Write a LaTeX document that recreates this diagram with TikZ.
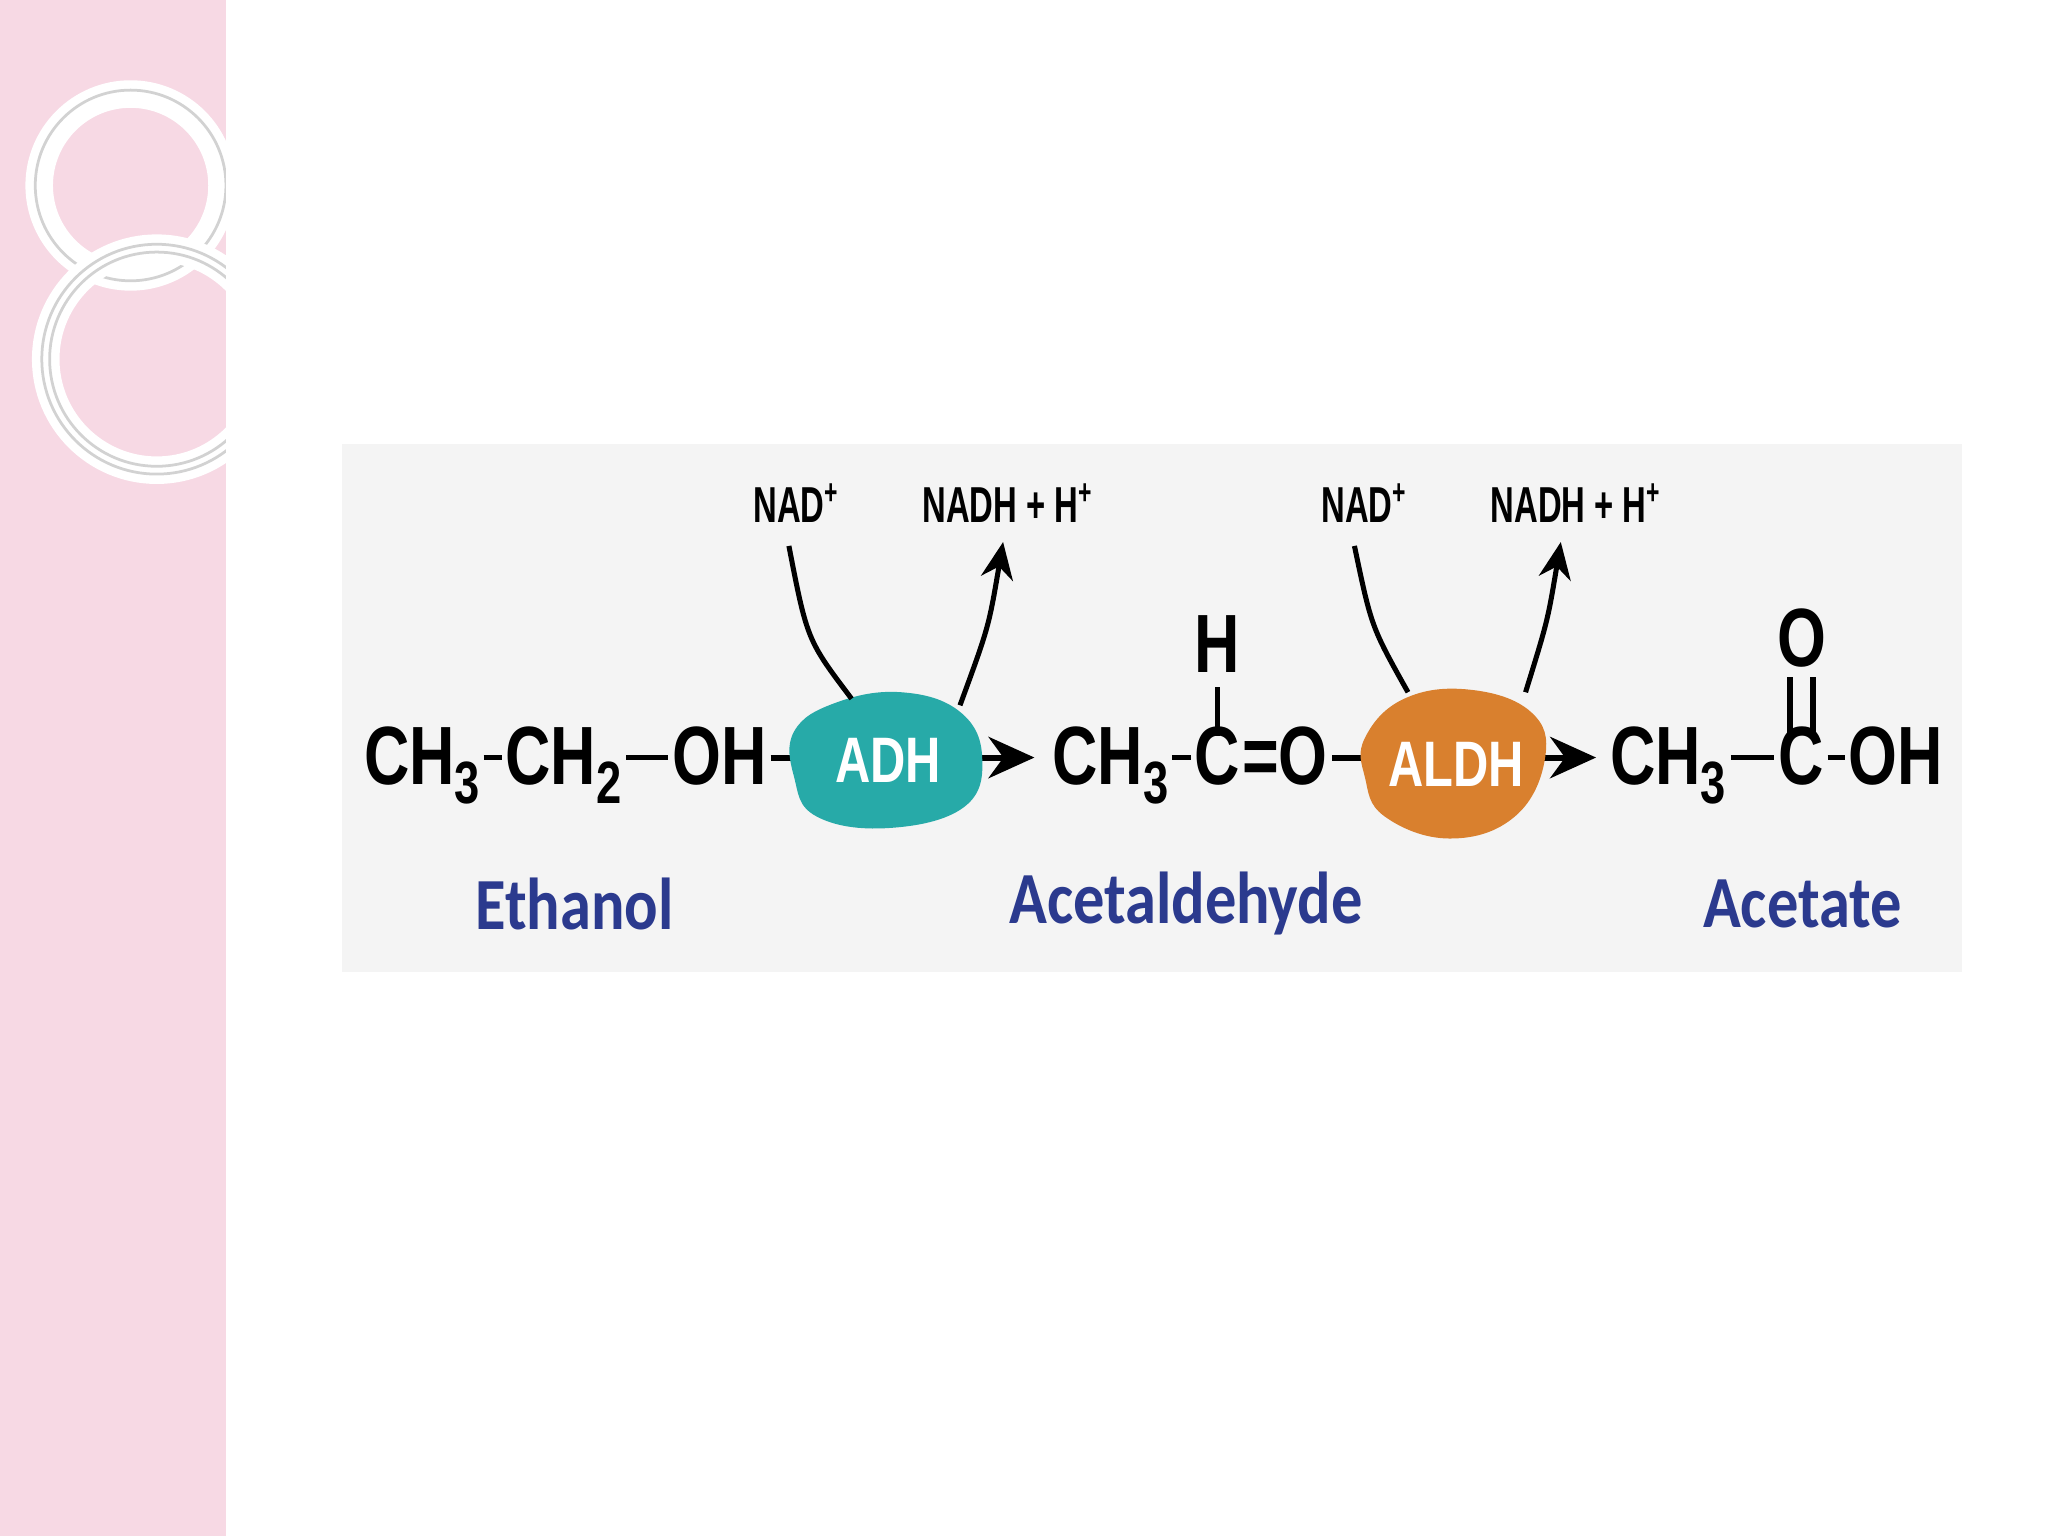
\documentclass[tikz,border=0pt]{standalone}
\usepackage{fontspec}
\setmainfont{Liberation Sans}
\newfontfamily\narrow[FakeStretch=0.76]{Liberation Sans}
\newfontfamily\cofnarrow[FakeStretch=0.65]{Liberation Sans}
\newfontfamily\labfont[FakeStretch=0.85]{Carlito}
\usetikzlibrary{arrows.meta}
\definecolor{pinkbg}{HTML}{F7D9E4}
\definecolor{boxbg}{HTML}{F4F4F4}
\definecolor{teal}{HTML}{27AAA8}
\definecolor{orng}{HTML}{D9802E}
\definecolor{labblue}{HTML}{2B3A8E}
\newcommand{\sbt}[1]{\raisebox{-0.22em}{\fontsize{13}{14}\selectfont #1}}
\begin{document}
\begin{tikzpicture}[x=0.01cm,y=-0.01cm,
  chem/.style={inner sep=0pt,anchor=base west,font=\narrow\bfseries\fontsize{18}{20}\selectfont},
  cof/.style={inner sep=0pt,font=\cofnarrow\bfseries\fontsize{11}{12}\selectfont},
  lab/.style={inner sep=0pt,text=labblue,font=\labfont\bfseries\fontsize{16}{18}\selectfont},
  enz/.style={inner sep=0pt,text=white,font=\narrow\bfseries\fontsize{14}{16}\selectfont},
  rarr/.style={line width=1.3pt,-{Stealth[length=10pt,width=9pt]}},
  cofline/.style={line width=1.1pt},
  bond/.style={line width=1.2pt},
  ring/.style={draw=white,line width=6pt}]
\useasboundingbox (0,0) rectangle (1568,1176);
\fill[white] (0,0) rectangle (1568,1176);
\fill[pinkbg] (0,0) rectangle (173,1176);
\begin{scope}
\clip (0,0) rectangle (173,1176);
\draw[ring] (100,142) circle (70);
\draw[gray!35,line width=0.6pt] (100,142) circle (73);
\draw[ring] (120,275) circle (85);
\draw[gray!35,line width=0.6pt] (120,275) circle (88);
\draw[gray!35,line width=0.6pt] (120,275) circle (82);
\end{scope}
\fill[boxbg] (262,340) rectangle (1502,744);
% arrows
\coordinate (a1s) at (590,580);
\coordinate (a1e) at (792,580);
\coordinate (a2s) at (1020,580);
\coordinate (a2e) at (1222,580);
\draw[rarr] (a1s) -- (a1e);
\draw[rarr] (a2s) -- (a2e);
\fill[teal] plot[smooth cycle,tension=0.7] coordinates {(608,560) (640,538) (690,530) (735,545) (752,580) (738,618) (680,634) (625,625) (608,595)};
\node[enz] (adh) at (680,582) {ADH};
\fill[orng] plot[smooth cycle,tension=0.7] coordinates {(1045,565) (1075,535) (1125,528) (1172,545) (1183,580) (1160,625) (1110,642) (1060,625) (1045,595)};
\node[enz] (aldh) at (1115,585) {ALDH};
% ethanol
\node[chem] (e1) at (278,601) {CH\sbt{3}};
\draw[bond] (e1.east |- 0,580) ++(2,0) -- ++(14,0) coordinate (b1);
\node[chem] (e2) at ([shift={(2,21)}]b1) {CH\sbt{2}};
\draw[bond] (e2.east |- 0,580) ++(3,0) -- ++(32,0) coordinate (b2);
\node[chem] (e3) at ([shift={(3,21)}]b2) {OH};
% acetaldehyde
\node[chem] (ac1) at (805,601) {CH\sbt{3}};
\draw[bond] (ac1.east |- 0,580) ++(2,0) -- ++(15,0) coordinate (b3);
\node[chem] (acC) at ([shift={(2,21)}]b3) {C};
\node[chem] (ac2) at (acC.base east) {=O};
\node[chem,anchor=base] (acH) at ([shift={(0,-86)}]acC.base) {H};
\draw[bond] ([yshift=-3pt]acH.south) -- ([yshift=-2pt]acC.north);
% acetate
\node[chem] (at1) at (1232,601) {CH\sbt{3}};
\draw[bond] (at1.east |- 0,580) ++(3,0) -- ++(33,0) coordinate (b4);
\node[chem] (atC) at ([shift={(3,21)}]b4) {C};
\draw[bond] (atC.east |- 0,580) ++(2,0) -- ++(13,0) coordinate (b5);
\node[chem] (at2) at ([shift={(2,21)}]b5) {OH};
\node[chem,anchor=base] (atO) at ([shift={(0,-91)}]atC.base) {O};
\draw[bond] ([xshift=-2.5pt,yshift=-2pt]atO.south) -- ([xshift=-2.5pt,yshift=-2pt]atC.north);
\draw[bond] ([xshift=2.5pt,yshift=-2pt]atO.south) -- ([xshift=2.5pt,yshift=-2pt]atC.north);
% labels
\node[lab] (l1) at (440,692) {Ethanol};
\node[lab] (l2) at (908,692) {Acetaldehyde};
\node[lab] (l3) at (1380,692) {Acetate};
% cofactors
\node[cof] (n1) at (610,385) {NAD\textsuperscript{+}};
\node[cof] (n2) at (772,385) {NADH + H\textsuperscript{+}};
\node[cof] (n3) at (1045,385) {NAD\textsuperscript{+}};
\node[cof] (n4) at (1207,385) {NADH + H\textsuperscript{+}};
\coordinate (s1) at (604,418);
\coordinate (c1) at (652,535);
\coordinate (c2) at (735,540);
\coordinate (t2) at (768,415);
\coordinate (s3) at (1037,418);
\coordinate (c3) at (1078,530);
\coordinate (c4) at (1168,530);
\coordinate (t4) at (1195,415);
\draw[cofline] (s1) .. controls (618,490) .. (c1);
\draw[cofline,-{Stealth[length=8pt,width=7pt]}] (c2) .. controls (757,480) .. (t2);
\draw[cofline] (s3) .. controls (1050,480) .. (c3);
\draw[cofline,-{Stealth[length=8pt,width=7pt]}] (c4) .. controls (1185,475) .. (t4);
\end{tikzpicture}
\end{document}
